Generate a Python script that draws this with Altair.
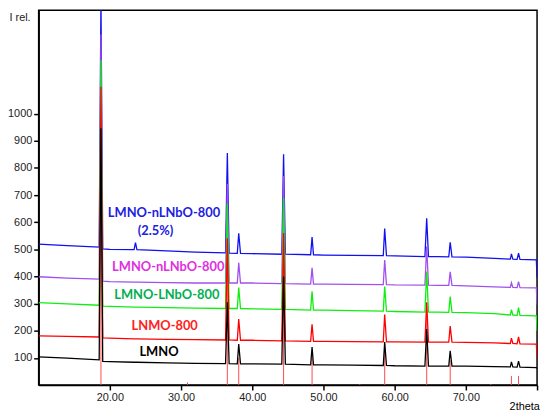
import altair as alt
import pandas as pd

# 2theta positions (shared by all patterns)
two_theta = [10, 14, 18.5, 18.75, 19.0, 20, 23.4, 23.6, 23.8, 28, 32,
             36.25, 36.5, 36.75, 37.9, 38.1, 38.35, 40, 44.15, 44.4, 44.65,
             48.2, 48.4, 48.6, 50, 54, 58.4, 58.6, 58.85, 60, 64.25, 64.5, 64.75,
             66, 67.6, 67.8, 68.05, 70, 74, 76.25, 76.4, 76.6, 77.2, 77.4, 77.6,
             79.9, 80]

lmno_nlnbo_800_25 = [519, 514, 508, 1420, 502, 500, 499, 525, 499, 494, 490,
                     487, 855, 486, 485, 559, 485, 484, 482, 850, 482,
                     480, 545, 480, 479, 478, 477, 577, 477, 476, 473, 614, 473,
                     473, 472, 526, 472, 471, 467, 464, 483, 464, 463, 486, 463,
                     461, 395]

lmno_nlnbo_800 = [399, 394, 390, 1292, 383, 381, 379, 379, 379, 377, 376,
                  376, 742, 376, 376, 450, 376, 376, 374, 770, 374,
                  372, 432, 372, 372, 371, 370, 461, 370, 369, 368, 510, 368,
                  367, 367, 417, 367, 365, 362, 360, 377, 360, 359, 381, 359,
                  358, 297]

lmno_lnbo_800 = [304, 299, 294, 1197, 291, 290, 287, 287, 287, 285, 283,
                 282, 669, 282, 282, 359, 282, 281, 279, 690, 279,
                 276, 345, 276, 276, 274, 272, 363, 272, 271, 269, 418, 269,
                 269, 268, 326, 268, 267, 263, 258, 278, 258, 257, 285, 257,
                 255, 199]

lnmo_800 = [181, 179, 177, 1099, 174, 173, 170, 170, 170, 168, 167,
            166, 541, 166, 165, 243, 165, 165, 163, 560, 163,
            161, 224, 161, 161, 160, 159, 260, 159, 159, 158, 305, 158,
            158, 158, 217, 158, 157, 155, 153, 173, 153, 152, 177, 152,
            151, 100]

lmno = [104, 99, 93, 946, 87, 86, 84, 84, 84, 82, 80,
        79, 305, 79, 78, 151, 78, 78, 77, 400, 77,
        74, 140, 74, 74, 73, 72, 158, 72, 71, 70, 206, 70,
        70, 70, 126, 70, 70, 68, 67, 85, 67, 66, 88, 66,
        64, 62]

# reference pattern sticks
ref_pos = [18.75, 30.9, 36.5, 38.1, 44.4, 48.4, 55.1, 58.6, 64.5, 67.8, 73.5, 76.4, 77.4]
ref_int = [1000, 10, 450, 100, 500, 120, 4, 150, 250, 90, 4, 33, 33]

series_names = ["LMNO-nLNbO-800 (2.5%)", "LMNO-nLNbO-800", "LMNO-LNbO-800", "LNMO-800", "LMNO"]
series_values = [lmno_nlnbo_800_25, lmno_nlnbo_800, lmno_lnbo_800, lnmo_800, lmno]
line_colors = ["#1010f0", "#a050ee", "#10ee10", "#ff0000", "#000000"]

label_texts = ["LMNO-nLNbO-800", "(2.5%)", "LMNO-nLNbO-800", "LMNO-LNbO-800", "LNMO-800", "LMNO"]
label_colors = ["#2020e0", "#2020e0", "#e030e0", "#00b050", "#ff2020", "#000000"]
label_x = [27.6, 26.4, 28.2, 28.0, 27.7, 26.9]
label_y = [632, 566, 435, 330, 217, 122]

x_ticks = [20, 30, 40, 50, 60, 70, 80]
y_ticks = [100, 200, 300, 400, 500, 600, 700, 800, 900, 1000]

xscale = alt.Scale(domain=[10, 80], nice=False, zero=False)
yscale = alt.Scale(domain=[0, 1381], nice=False, zero=False)


def X(field):
    return alt.X(field, type="quantitative", scale=xscale,
                 axis=alt.Axis(values=x_ticks, labelExpr="datum.value < 75 ? format(datum.value, '.2f') : ''",
                               tickSize=5, labelPadding=2, title="2theta",
                               titleX=491, titleY=22, titleAlign="center", titleBaseline="middle",
                               titleFontWeight="normal", titleFontSize=11, titleColor="#000"))


def Y(field):
    return alt.Y(field, type="quantitative", scale=yscale,
                 axis=alt.Axis(values=y_ticks, format="d", tickSize=5, labelPadding=2,
                               title="I rel.", titleAngle=0, titleAlign="left", titleBaseline="middle",
                               titleX=-30, titleY=7, titleFontWeight="normal", titleFontSize=11,
                               titleColor="#222"))


ref_df = pd.DataFrame({"pos": ref_pos, "top": ref_int, "base": [0] * len(ref_pos)})
sticks = alt.Chart(ref_df).mark_rule(color="#ff4a4a", strokeWidth=1, clip=True).encode(
    x=X("pos"), y=Y("base"), y2="top")

layers = [sticks]
for name, vals, col in zip(series_names, series_values, line_colors):
    df = pd.DataFrame({"theta": two_theta, "I": vals, "order": list(range(len(two_theta)))})
    layers.append(
        alt.Chart(df).mark_line(color=col, strokeWidth=1.3, clip=True).encode(
            x=X("theta"), y=Y("I"), order="order")
    )

lab_df = pd.DataFrame({"text": label_texts, "x": label_x, "y": label_y, "c": label_colors})
labels = alt.Chart(lab_df).mark_text(font="Lato", fontSize=13, fontWeight="bold",
                                     align="center", baseline="middle").encode(
    x=X("x"), y=Y("y"), text="text", color=alt.Color("c", scale=None))
layers.append(labels)

chart = alt.layer(*layers).properties(
    width=504, height=379,
    autosize=alt.AutoSizeParams(type="none"),
    padding={"left": 31, "top": 0, "right": 5, "bottom": 25},
).configure_view(stroke="black", strokeWidth=1.5).configure_axis(
    grid=False, domainColor="black", domainWidth=1.5, tickColor="black", tickWidth=1.5,
    labelFont="Liberation Sans", labelFontSize=11, labelColor="#222",
    titleFont="Liberation Sans"
)

chart.save("out.html", embed_options={"renderer": "svg", "actions": False})
